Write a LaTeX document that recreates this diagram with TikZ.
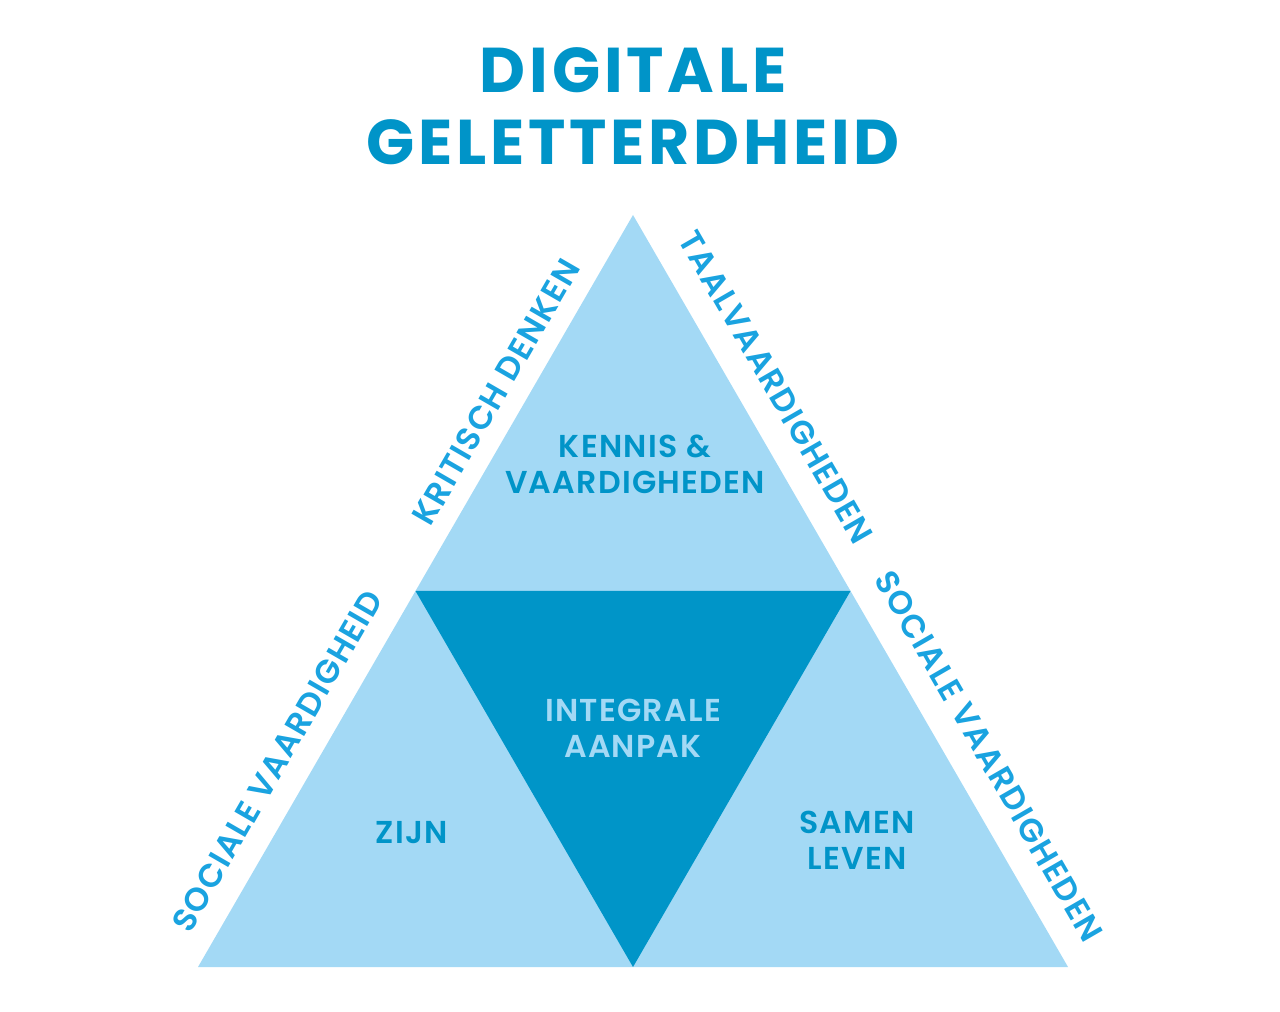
\documentclass[tikz,border=0pt]{standalone}
\usepackage{fontspec}
\setmainfont{Poppins}[LetterSpace=4, BoldFont={Poppins SemiBold}]
\newfontfamily\titelfont{Poppins Bold}[LetterSpace=6]
\definecolor{titelblauw}{HTML}{0094C8}
\definecolor{lichtblauw}{HTML}{A3D9F5}
\definecolor{donkerblauw}{HTML}{0095C8}
\definecolor{randblauw}{HTML}{1AA3E0}
\tikzset{
  titel/.style={text=titelblauw, align=center, inner sep=0pt,
    font=\titelfont\fontsize{18}{20.5}\selectfont},
  vlaklabel/.style={text=titelblauw, align=center, inner sep=0pt,
    font=\bfseries\fontsize{9}{10.2}\selectfont},
  zijlabel/.style={text=randblauw, inner sep=0pt,
    font=\bfseries\fontsize{9.3}{11}\selectfont}
}
\begin{document}
\begin{tikzpicture}
    \useasboundingbox (0,0) rectangle (12.8,10.11);
    % Hoekpunten
    \coordinate (top) at (6.33,7.96);
    \coordinate (links) at (1.98,0.44);
    \coordinate (rechts) at (10.68,0.44);
    \coordinate (midlinks) at (4.155,4.20);
    \coordinate (midrechts) at (8.505,4.20);
    \coordinate (onder) at (6.33,0.44);

    % Driehoeken
    \fill[lichtblauw] (top) -- (links) -- (rechts) -- cycle;
    \fill[donkerblauw] (midlinks) -- (midrechts) -- (onder) -- cycle;

    % Titel
    \node[titel] (kop) at (6.33,9.05) {DIGITALE\\GELETTERDHEID};

    % Vlakken
    \node[vlaklabel] (kennis) at (6.35,5.47) {KENNIS \&\\VAARDIGHEDEN};
    \node[vlaklabel, text=lichtblauw] (integraal) at (6.33,2.83) {INTEGRALE\\AANPAK};
    \node[vlaklabel] (zijn) at (4.12,1.78) {ZIJN};
    \node[vlaklabel] (samen) at (8.57,1.71) {SAMEN\\LEVEN};

    % Zijden
    \foreach \x/\y/\hoek/\tekst [count=\i] in {
        4.96/6.19/60/KRITISCH DENKEN,
        2.77/2.50/60/SOCIALE VAARDIGHEID,
        7.76/6.24/-60/TAALVAARDIGHEDEN,
        9.89/2.55/-60/SOCIALE VAARDIGHEDEN
        } {
        \node[zijlabel, rotate=\hoek] (zijde\i) at (\x,\y) {\tekst};
    }
\end{tikzpicture}
\end{document}
